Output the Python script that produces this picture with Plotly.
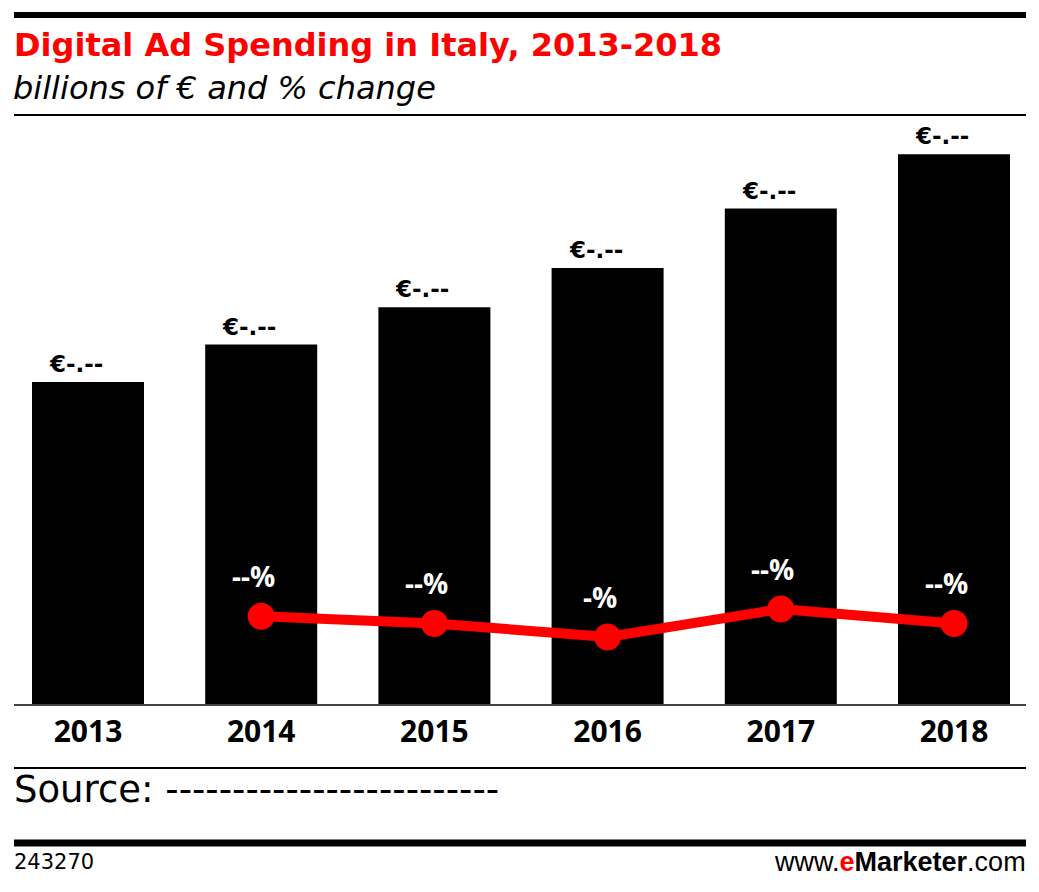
import plotly.graph_objects as go

# ---- datos (valores estimados) ----
years = [2013, 2014, 2015, 2016, 2017, 2018]
year_labels = ["2013", "2014", "2015", "2016", "2017", "2018"]
spend = [1.90, 2.12, 2.34, 2.57, 2.92, 3.24]          # billones de €
spend_labels = ["€-.--"] * 6
chg_years = [2014, 2015, 2016, 2017, 2018]
chg = [11.1, 10.2, 8.5, 12.0, 10.2]                     # % cambio
chg_labels = ["--%", "--%", "-%", "--%", "--%"]

# el body del html tiene 8px de margen: la figura ocupa la ventana menos eso
OFF = 8
W, H = 1039 - OFF, 892 - OFF
PLOT_TOP, PLOT_BOT = 120, 705        # en pixeles de la ventana
RED = "#ff0000"
SANS = "Open Sans"
DEJ = "DejaVu Sans"

# eje x: centro de 2013 en x=88, paso 173.2 px
STEP = 173.2
x_lo = 2013 + (OFF - 88) / STEP
x_hi = 2013 + (1039 - 88) / STEP


def py(pix):
    return (PLOT_BOT - pix) / (PLOT_BOT - PLOT_TOP)


def px(pix):
    return (pix - OFF) / W


fig = go.Figure()
fig.add_trace(go.Bar(x=years, y=spend, width=112 / STEP,
                     marker=dict(color="#000000", line=dict(width=0)),
                     hoverinfo="skip", showlegend=False))
fig.add_trace(go.Scatter(x=chg_years, y=chg, yaxis="y2", mode="lines+markers",
                         line=dict(color=RED, width=10), marker=dict(color=RED, size=27),
                         hoverinfo="skip", showlegend=False))

ann = []
for x, v, t in zip(years, spend, spend_labels):
    ann.append(dict(x=x, y=v, text=t, showarrow=False, yanchor="bottom", yshift=3, xshift=-12,
                    font=dict(family=DEJ, size=23, color="#000000", weight="bold")))
for x, v, t in zip(chg_years, chg, chg_labels):
    ann.append(dict(x=x, y=v, yref="y2", text=t, showarrow=False, yanchor="bottom",
                    yshift=19, xshift=-8,
                    font=dict(family=SANS, size=28, color="#ffffff", weight="bold")))

# título, subtítulo, fuente, pie
ann += [
    dict(xref="paper", yref="paper", x=px(12), y=py(45), xanchor="left", yanchor="middle",
         text="Digital Ad Spending in Italy, 2013-2018", showarrow=False,
         font=dict(family=DEJ, size=32, color=RED, weight="bold")),
    dict(xref="paper", yref="paper", x=px(11), y=py(88), xanchor="left", yanchor="middle",
         text="<i>billions of € and % change</i>", showarrow=False,
         font=dict(family=DEJ, size=32, color="#000000")),
    dict(xref="paper", yref="paper", x=px(12), y=py(789), xanchor="left", yanchor="middle",
         text="Source: -------------------------", showarrow=False,
         font=dict(family=DEJ, size=37, color="#000000")),
    dict(xref="paper", yref="paper", x=px(12), y=py(862), xanchor="left", yanchor="middle",
         text="243270", showarrow=False,
         font=dict(family=DEJ, size=21, color="#000000")),
    dict(xref="paper", yref="paper", x=px(1028), y=py(862), xanchor="right", yanchor="middle",
         text="www.<b><span style='color:#ff0000'>e</span>Marketer</b>.com", showarrow=False,
         font=dict(family="Liberation Sans", size=27, color="#000000")),
]

line = lambda y, w, c="#000000": dict(type="line", xref="paper", yref="paper",
                                        x0=px(14), x1=px(1026), y0=py(y), y1=py(y),
                                        line=dict(color=c, width=w))
shapes = [line(15, 6), line(115, 2), line(705, 2, "#444444"), line(768, 2), line(843, 7)]

fig.update_layout(
    width=W, height=H,
    margin=dict(l=0, r=0, t=PLOT_TOP - OFF, b=892 - PLOT_BOT),
    paper_bgcolor="#ffffff", plot_bgcolor="#ffffff",
    annotations=ann, shapes=shapes,
    xaxis=dict(range=[x_lo, x_hi], tickvals=years, ticktext=year_labels,
               showgrid=False, zeroline=False, showline=False, ticks="", fixedrange=True,
               tickfont=dict(family=SANS, size=30, color="#000000", weight="bold"),
               ticklabelstandoff=6),
    yaxis=dict(range=[0, 585 / 170], visible=False, fixedrange=True),
    yaxis2=dict(range=[0, 585 / 8], overlaying="y", visible=False, fixedrange=True),
)

fig.write_html("out.html")
